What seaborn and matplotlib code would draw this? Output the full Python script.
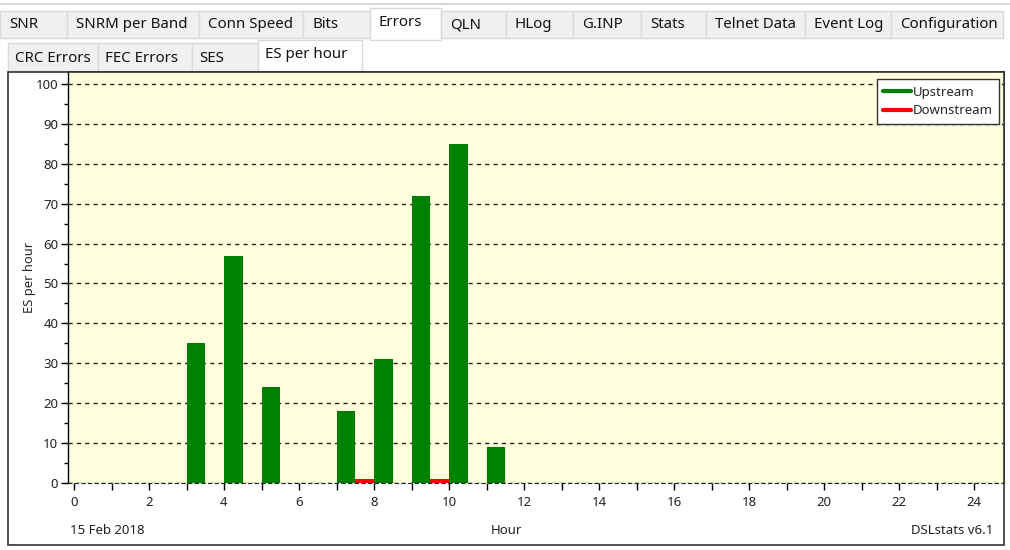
import matplotlib
matplotlib.use("Agg")
import matplotlib.pyplot as plt
import matplotlib.patches as mpatches
from matplotlib.lines import Line2D
from matplotlib.ticker import MultipleLocator, FormatStrFormatter
import seaborn as sns
import pandas as pd

# ES per hour, 15 Feb 2018
hours = list(range(24))
upstream = [0, 0, 0, 35, 57, 24, 0, 18, 31, 72, 85, 9,
            0, 0, 0, 0, 0, 0, 0, 0, 0, 0, 0, 0]
downstream = [0, 0, 0, 0, 0, 0, 0, 1, 0, 1, 0, 0,
              0, 0, 0, 0, 0, 0, 0, 0, 0, 0, 0, 0]

top_tabs = ["SNR", "SNRM per Band", "Conn Speed", "Bits", "Errors", "QLN",
            "HLog", "G.INP", "Stats", "Telnet Data", "Event Log", "Configuration"]
top_tab_edges = [0, 67, 199, 303, 370, 441, 506, 573, 641, 706, 805, 891, 1003]
sub_tabs = ["CRC Errors", "FEC Errors", "SES", "ES per hour"]
sub_tab_edges = [8, 98, 192, 258, 362]

sns.set_style("ticks")
plt.rcParams["font.family"] = ["Noto Sans", "DejaVu Sans"]

W, H = 1010, 550
fig = plt.figure(figsize=(W / 100, H / 100), dpi=100, facecolor="white")


def px_rect(x0, y0, x1, y1, **kw):
    # rectangle in pixel coords (y down) -> figure fraction
    fig.patches.append(mpatches.Rectangle(
        (x0 / W, 1 - y1 / H), (x1 - x0) / W, (y1 - y0) / H,
        transform=fig.transFigure, figure=fig, **kw))


# tab strips
px_rect(0, 3, W, 5, facecolor="#d9d9d9", edgecolor="none", zorder=-2)
for i, name in enumerate(top_tabs):
    x0, x1 = top_tab_edges[i], top_tab_edges[i + 1]
    sel = name == "Errors"
    px_rect(x0, 8 if sel else 11, x1, 40 if sel else 38,
            facecolor="white" if sel else "#f0f0f0",
            edgecolor="#d9d9d9", linewidth=1, zorder=-2)
    fig.text((x0 + 9) / W, 1 - (22 if sel else 25) / H, name,
             fontsize=10.8, va="center", ha="left", color="#111111")
for i, name in enumerate(sub_tabs):
    x0, x1 = sub_tab_edges[i], sub_tab_edges[i + 1]
    sel = name == "ES per hour"
    px_rect(x0, 40 if sel else 43, x1, 71,
            facecolor="white" if sel else "#f0f0f0",
            edgecolor="#d9d9d9", linewidth=1, zorder=-2)
    fig.text((x0 + 7) / W, 1 - (55 if sel else 58) / H, name,
             fontsize=10.8, va="center", ha="left", color="#111111")

# chart panel
px_rect(8, 72, 1004, 545, facecolor="white", edgecolor="#333333", linewidth=1.2, zorder=-1)

ax = fig.add_axes([68 / W, 1 - 483 / H, (1004 - 68) / W, (483 - 72) / H])
ax.set_facecolor("#ffffdd")

df = pd.DataFrame({
    "slot": [h + 0.5 for h in hours] * 2,
    "es": upstream + downstream,
    "dir": ["Upstream"] * len(hours) + ["Downstream"] * len(hours),
})
colors = {"Upstream": "#008000", "Downstream": "#ff0000"}
sns.barplot(data=df, x="slot", y="es", hue="dir", hue_order=["Upstream", "Downstream"],
            palette=colors, native_scale=True, width=1, dodge=True, gap=0,
            saturation=1, errorbar=None, linewidth=0, legend=False, ax=ax)

ax.set_xlim(-0.16, 24.8)
ax.set_ylim(0, 103)
ax.xaxis.set_major_locator(MultipleLocator(2))
ax.xaxis.set_minor_locator(MultipleLocator(1))
ax.yaxis.set_major_locator(MultipleLocator(10))
ax.yaxis.set_minor_locator(MultipleLocator(5))
ax.xaxis.set_major_formatter(FormatStrFormatter("%d"))
ax.tick_params(axis="both", which="major", direction="out", length=5, width=1,
               color="black", labelsize=9.5, labelcolor="#222222")
ax.tick_params(axis="x", which="minor", direction="out", length=5, width=1, color="black")
ax.tick_params(axis="y", which="minor", direction="out", length=3, width=1, color="black")
ax.tick_params(axis="x", pad=4)
ax.tick_params(axis="y", pad=2)

ax.set_axisbelow(True)
ax.yaxis.grid(True, linestyle=(0, (3, 3)), color="#222222", linewidth=1)
ax.xaxis.grid(False)
for side in ["top", "right"]:
    ax.spines[side].set_color("#333333")
    ax.spines[side].set_linewidth(1.2)
ax.spines["left"].set_color("black")
ax.spines["left"].set_linewidth(1)
ax.spines["bottom"].set_linestyle((0, (3, 3)))
ax.spines["bottom"].set_color("#222222")

ax.set_xlabel("")
ax.set_ylabel("ES per hour", fontsize=9.3)
ax.yaxis.set_label_coords(-32 / 936, (483 - 277) / 411)

fig.text(506 / W, 1 - 530 / H, "Hour", fontsize=9.5, ha="center", va="center", color="#222222")
fig.text(70 / W, 1 - 530 / H, "15 Feb 2018", fontsize=9.5, ha="left", va="center", color="#222222")
fig.text(993 / W, 1 - 530 / H, "DSLstats v6.1", fontsize=9.5, ha="right", va="center", color="#222222")

handles = [Line2D([0], [0], color=colors["Upstream"], lw=3),
           Line2D([0], [0], color=colors["Downstream"], lw=3)]
leg = ax.legend(handles, ["Upstream", "Downstream"], loc="upper right",
                bbox_to_anchor=(0.9947, 0.982), fontsize=9.5, frameon=True, fancybox=False,
                handlelength=2.1, handletextpad=0.1, borderpad=0.5, labelspacing=0.4,
                borderaxespad=0)
leg.get_frame().set_edgecolor("#333333")
leg.get_frame().set_linewidth(1)
leg.get_frame().set_facecolor("white")
leg.get_frame().set_alpha(1)

fig.savefig("out.png", dpi=100, facecolor=fig.get_facecolor())
